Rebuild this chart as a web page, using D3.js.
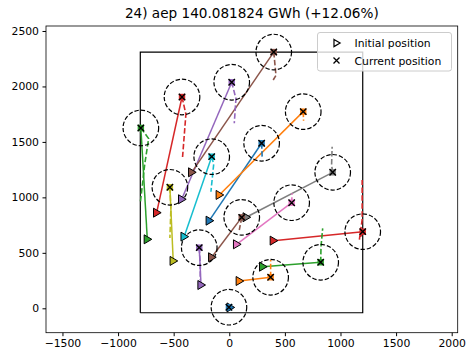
<!DOCTYPE html>
<html>
<head>
<meta charset="utf-8">
<script src="https://cdn.jsdelivr.net/npm/d3@7"></script>
<style>
  body { margin: 0; background: #fff; }
  svg { display: block; font-family: "DejaVu Sans", sans-serif; }
</style>
</head>
<body>
<svg id="chart" width="474" height="361"></svg>
<script>
// ---- data ----
const titleText = "24) aep 140.081824 GWh (+12.06%)";
const xTicks = [-1500, -1000, -500, 0, 500, 1000, 1500, 2000];
const yTicks = [0, 500, 1000, 1500, 2000, 2500];
const turbineColors = ["#1f77b4","#ff7f0e","#2ca02c","#d62728","#9467bd","#8c564b","#e377c2","#7f7f7f","#bcbd22","#17becf","#1f77b4","#ff7f0e","#2ca02c","#d62728","#9467bd","#8c564b"];
const initX = [-180, -90, -737, -653, -428, -338, 66, 152, -504, -406, 8, 90, 300, 396, -254, -158];
const initY = [790, 1022, 622, 862, 983, 1226, 577, 821, 427, 646, 8, 246, 375, 610, 210, 460];
const curX = [291, 665, -795, -425, 22, 400, 561, 930, -534, -158, -3, 372, 822, 1200, -270, 112];
const curY = [1488, 1773, 1626, 1905, 2038, 2310, 952, 1226, 1091, 1367, 10, 280, 415, 691, 547, 820];
const dashX = [[291, 296], [665, 668], [-795, -725, -760, -800], [-425, -390, -420], [22, 60, 45], [400, 420, 395], [561, 565], [930, 920, 925], [-534, -525, -534], [-158, -140, -165], [-3], [372, 372], [822, 825, 840], [1200, 1170, 1195, 1195], [-270, -260, -262], [112, 90]];
const dashY = [[1488, 1355], [1773, 1690], [1626, 1530, 1300, 950], [1905, 1750, 1364], [2038, 1890, 1668], [2310, 2100, 2058], [952, 1037], [1226, 1290, 1457], [1091, 900, 634], [1367, 1300, 1051], [10], [280, 436], [415, 560, 721], [691, 620, 800, 1157], [547, 380, 250], [820, 706]];
const boundaryX = [-800, 1200, 1200, -800, -800];
const boundaryY = [-40, -40, 2310, 2310, -40];
const spacingRadius = 160;
const legendLabels = ["Initial position", "Current position"];

// ---- layout ----
const W = 474, H = 361;
const m = { left: 46, right: 16.3, top: 26, bottom: 28.3 };
const x = d3.scaleLinear().domain([-1648, 2054]).range([m.left, W - m.right]);
const y = d3.scaleLinear().domain([-220, 2545]).range([H - m.bottom, m.top]);

const svg = d3.select("#chart");

// title
svg.append("text").attr("x", (m.left + W - m.right) / 2).attr("y", 17.5)
  .attr("text-anchor", "middle").attr("font-size", 13.6).attr("fill", "#000").text(titleText);

const plot = svg.append("g");

// boundary
plot.append("path")
  .attr("d", d3.line()(boundaryX.map((v, i) => [x(v), y(boundaryY[i])])))
  .attr("fill", "none").attr("stroke", "#000").attr("stroke-width", 1.2);

// solid paths
const idx = d3.range(initX.length);
plot.selectAll(".path").data(idx).join("line")
  .attr("x1", i => x(initX[i])).attr("y1", i => y(initY[i]))
  .attr("x2", i => x(curX[i])).attr("y2", i => y(curY[i]))
  .attr("stroke", i => turbineColors[i]).attr("stroke-width", 1.5);

// dashed recent paths
plot.selectAll(".dash").data(idx.filter(i => dashX[i].length > 1)).join("path")
  .attr("d", i => d3.line()(dashX[i].map((v, k) => [x(v), y(dashY[i][k])])))
  .attr("fill", "none").attr("stroke", i => turbineColors[i]).attr("stroke-width", 1.6)
  .attr("stroke-dasharray", "5.5,2.4");

// spacing circles
const rpx = x(spacingRadius) - x(0);
plot.selectAll(".circ").data(idx).join("circle")
  .attr("cx", i => x(curX[i])).attr("cy", i => y(curY[i])).attr("r", rpx)
  .attr("fill", "none").attr("stroke", "#000").attr("stroke-width", 1.2)
  .attr("stroke-dasharray", "4.4,2");

// initial markers (triangle right)
const tri = (cx, cy, s) => `M${cx - s * 0.7},${cy - s}L${cx + s},${cy}L${cx - s * 0.7},${cy + s}Z`;
plot.selectAll(".init").data(idx).join("path")
  .attr("d", i => tri(x(initX[i]), y(initY[i]), 4.5))
  .attr("fill", i => turbineColors[i]).attr("stroke", "#000").attr("stroke-width", 1);

// current markers
plot.selectAll(".cursq").data(idx).join("rect")
  .attr("x", i => x(curX[i]) - 3.2).attr("y", i => y(curY[i]) - 3.2)
  .attr("width", 6.4).attr("height", 6.4).attr("fill", i => turbineColors[i]);
const xMark = (cx, cy, s) => `M${cx - s},${cy - s}L${cx + s},${cy + s}M${cx - s},${cy + s}L${cx + s},${cy - s}`;
plot.selectAll(".curx").data(idx).join("path")
  .attr("d", i => xMark(x(curX[i]), y(curY[i]), 3.2))
  .attr("stroke", "#000").attr("stroke-width", 1.4).attr("fill", "none");

// axes
const fmt = d3.format("d");
svg.append("g").attr("transform", `translate(0,${H - m.bottom})`)
  .call(d3.axisBottom(x).tickValues(xTicks).tickFormat(fmt).tickSize(3.5).tickPadding(3.5).tickSizeOuter(0))
  .call(g => g.selectAll("text").attr("font-size", 10.8).attr("fill", "#000").attr("font-family", "DejaVu Sans"))
  .call(g => g.select(".domain").remove());
svg.append("g").attr("transform", `translate(${m.left},0)`)
  .call(d3.axisLeft(y).tickValues(yTicks).tickFormat(fmt).tickSize(3.5).tickPadding(3.5).tickSizeOuter(0))
  .call(g => g.selectAll("text").attr("font-size", 10.8).attr("fill", "#000").attr("font-family", "DejaVu Sans"))
  .call(g => g.select(".domain").remove());

// frame
svg.append("rect").attr("x", m.left).attr("y", m.top)
  .attr("width", W - m.left - m.right).attr("height", H - m.top - m.bottom)
  .attr("fill", "none").attr("stroke", "#000").attr("stroke-width", 0.8);

// legend
const lg = svg.append("g");
lg.append("rect").attr("x", 317.5).attr("y", 32.5).attr("width", 134).attr("height", 38.5)
  .attr("rx", 2.5).attr("fill", "#fff").attr("fill-opacity", 0.8).attr("stroke", "#ccc").attr("stroke-width", 1);
lg.append("path").attr("d", tri(336.5, 43, 3.6)).attr("fill", "none").attr("stroke", "#000").attr("stroke-width", 1.2);
lg.append("path").attr("d", xMark(336.5, 60.5, 3)).attr("stroke", "#000").attr("stroke-width", 1.3);
legendLabels.forEach((t, k) => {
  lg.append("text").attr("x", 354.5).attr("y", 47 + k * 17.5).attr("font-size", 10.8).attr("fill", "#000").text(t);
});
</script>
</body>
</html>
